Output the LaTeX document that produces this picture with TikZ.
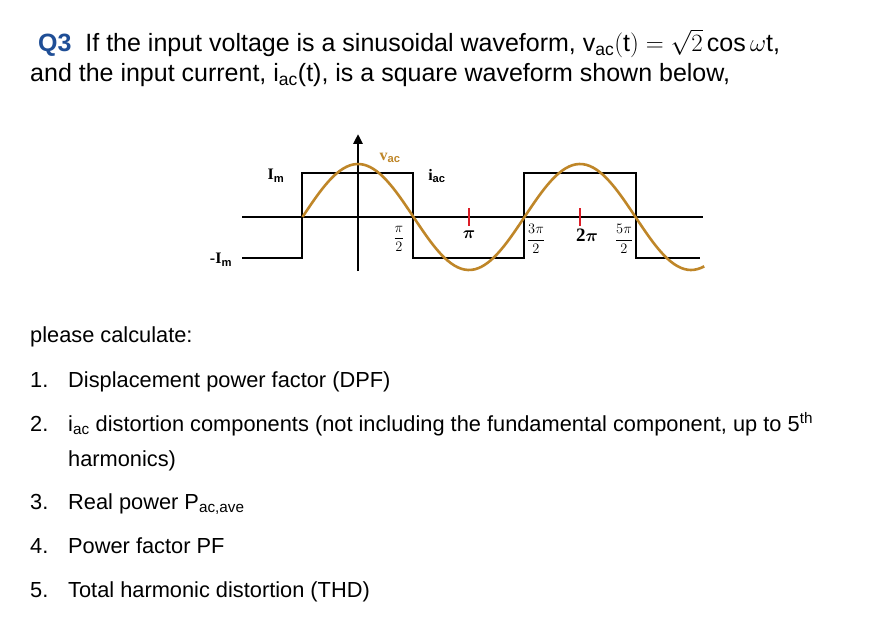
\documentclass[tikz,border=0pt]{standalone}
\usepackage{fontspec}
\setmainfont{Liberation Sans}
\usepackage{amsmath}
\usetikzlibrary{arrows.meta}
\newfontfamily\serif{Liberation Serif}
\definecolor{qblue}{RGB}{31,78,150}
\definecolor{sinec}{RGB}{191,134,40}
\definecolor{tickred}{RGB}{220,30,40}
\begin{document}
\begin{tikzpicture}[x=1pt,y=-1pt,
  txt/.style={anchor=base west,inner sep=0pt,font=\fontsize{21.8}{26}\selectfont},
  ttl/.style={anchor=base west,inner sep=0pt,font=\fontsize{25}{29}\selectfont},
  lbl/.style={inner sep=0pt,font=\serif\bfseries\fontsize{16}{18}\selectfont},
  frc/.style={inner sep=0pt,font=\fontsize{14}{16}\selectfont},
  wave/.style={line width=2.8pt}]
\useasboundingbox (0,0) rectangle (870,623);
\fill[white] (0,0) rectangle (870,623);
% title
\node[ttl] (t1) at (38,52) {\textbf{\color{qblue}Q3}\ \ If the input voltage is a sinusoidal waveform, $\mathrm{v}_{\mathrm{ac}}(\mathrm{t})=\sqrt{2}\cos\omega \mathrm{t}$,};
\node[ttl] (t2) at (30,82) {and the input current, i$_{\text{ac}}$(t), is a square waveform shown below,};
% waveform
\coordinate (o) at (358,217);
\coordinate (axl) at (242,217);
\coordinate (axr) at (703,217);
\coordinate (axb) at (358,271);
\coordinate (axt) at (358,134);
\draw[wave] (axl) -- (axr);
\draw[wave,-{Triangle[length=10pt,width=9pt]}] (axb) -- (axt);
\draw[wave] (242,258) -- (302,258) -- (302,173) -- (413,173) -- (413,258) -- (524,258) -- (524,173) -- (636,173) -- (636,258) -- (700,258);
\draw[sinec,line width=2.6pt,domain=-0.5:3.12,samples=120,smooth] plot ({358+111*\x},{217-53*cos(180*\x)});
\draw[tickred,line width=2.2pt] (469,208) -- (469,226);
\draw[tickred,line width=2.2pt] (580,208) -- (580,226);
\node[lbl] (im) at (276,176) {I$_{\mathbf m}$};
\node[lbl] (mim) at (221,260) {-I$_{\mathbf m}$};
\node[lbl,text=sinec] (vac) at (390,158) {v$_{\mathbf{ac}}$};
\node[lbl] (iac) at (437,176) {i$_{\mathbf{ac}}$};
\node[frc] (p2) at (399,239) {$\dfrac{\pi}{2}$};
\node[lbl,font=\fontsize{19}{19}\selectfont] (p1) at (469,235) {$\boldsymbol\pi$};
\node[frc] (p3) at (536,239) {$\dfrac{3\pi}{2}$};
\node[lbl,font=\serif\bfseries\fontsize{19}{19}\selectfont] (p4) at (587,235) {2$\boldsymbol\pi$};
\node[frc] (p5) at (624,239) {$\dfrac{5\pi}{2}$};
% list
\node[txt] (pc) at (30,342) {please calculate:};
\node[txt] (n1) at (30,387) {1.};
\node[txt] (l1) at (68,387) {Displacement power factor (DPF)};
\node[txt] (n2) at (30,431) {2.};
\node[txt] (l2) at (68,431) {i$_{\text{ac}}$ distortion components (not including the fundamental component, up to 5$^{\text{th}}$};
\node[txt] (l2b) at (68,466) {harmonics)};
\node[txt] (n3) at (30,509) {3.};
\node[txt] (l3) at (68,509) {Real power P$_{\text{ac,ave}}$};
\node[txt] (n4) at (30,553) {4.};
\node[txt] (l4) at (68,553) {Power factor PF};
\node[txt] (n5) at (30,597) {5.};
\node[txt] (l5) at (68,597) {Total harmonic distortion (THD)};
\end{tikzpicture}
\end{document}
